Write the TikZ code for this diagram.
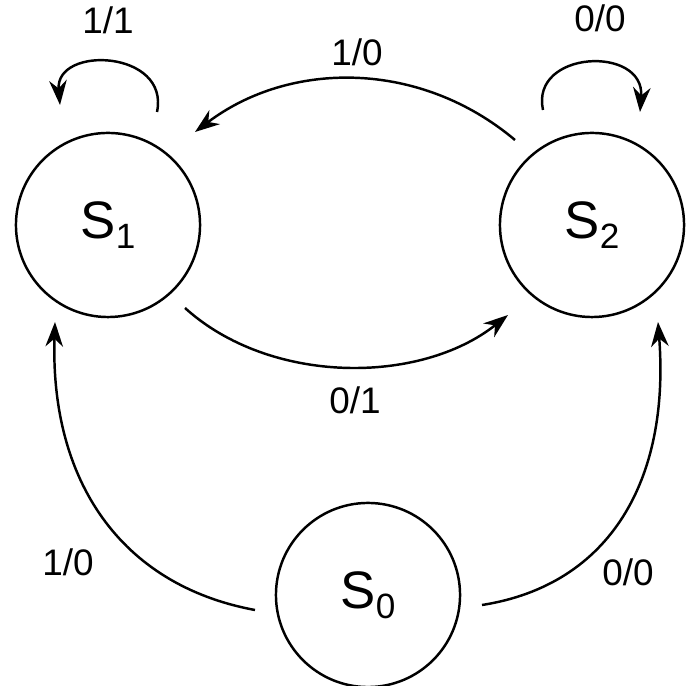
\documentclass[tikz,border=0pt]{standalone}
\usepackage{fontspec}
\setmainfont{Liberation Sans}
\usetikzlibrary{arrows.meta}
\newcommand{\sbs}[1]{\raisebox{-0.35ex}{\fontsize{10}{12}\selectfont #1}}
\begin{document}
\begin{tikzpicture}[x=0.01cm,y=-0.01cm,
  st/.style={draw,circle,minimum size=1.84cm,line width=0.7pt,font=\fontsize{15}{18}\selectfont},
  lab/.style={font=\fontsize{10.5}{12}\selectfont},
  ed/.style={line width=0.7pt,-{Stealth[length=7pt,width=5pt]}}]
\useasboundingbox (0,0) rectangle (700,686);
\node[st] (s1) at (108,225) {S\sbs{1}};
\node[st] (s2) at (592,225) {S\sbs{2}};
\node[st] (s0) at (368,595) {S\sbs{0}};
\coordinate (a1) at (515,140); \coordinate (b1) at (195,132);
\draw[ed] (a1) .. controls (420,60) and (290,60) .. (b1);
\node[lab] (l1) at (357,52) {1/0};
\coordinate (a2) at (185,308); \coordinate (b2) at (508,315);
\draw[ed] (a2) .. controls (270,385) and (420,385) .. (b2);
\node[lab] (l2) at (355,400) {0/1};
\coordinate (a3) at (255,610); \coordinate (b3) at (55,322);
\draw[ed] (a3) .. controls (120,585) and (50,480) .. (b3);
\node[lab] (l3) at (68,562) {1/0};
\coordinate (a4) at (482,605); \coordinate (b4) at (658,322);
\draw[ed] (a4) .. controls (610,585) and (670,480) .. (b4);
\node[lab] (l4) at (628,572) {0/0};
\coordinate (a5) at (157,112); \coordinate (b5) at (60,105);
\draw[ed] (a5) .. controls (170,50) and (55,45) .. (b5);
\node[lab] (l5) at (108,20) {1/1};
\coordinate (a6) at (543,110); \coordinate (b6) at (640,112);
\draw[ed] (a6) .. controls (530,50) and (645,45) .. (b6);
\node[lab] (l6) at (600,18) {0/0};
\end{tikzpicture}
\end{document}
